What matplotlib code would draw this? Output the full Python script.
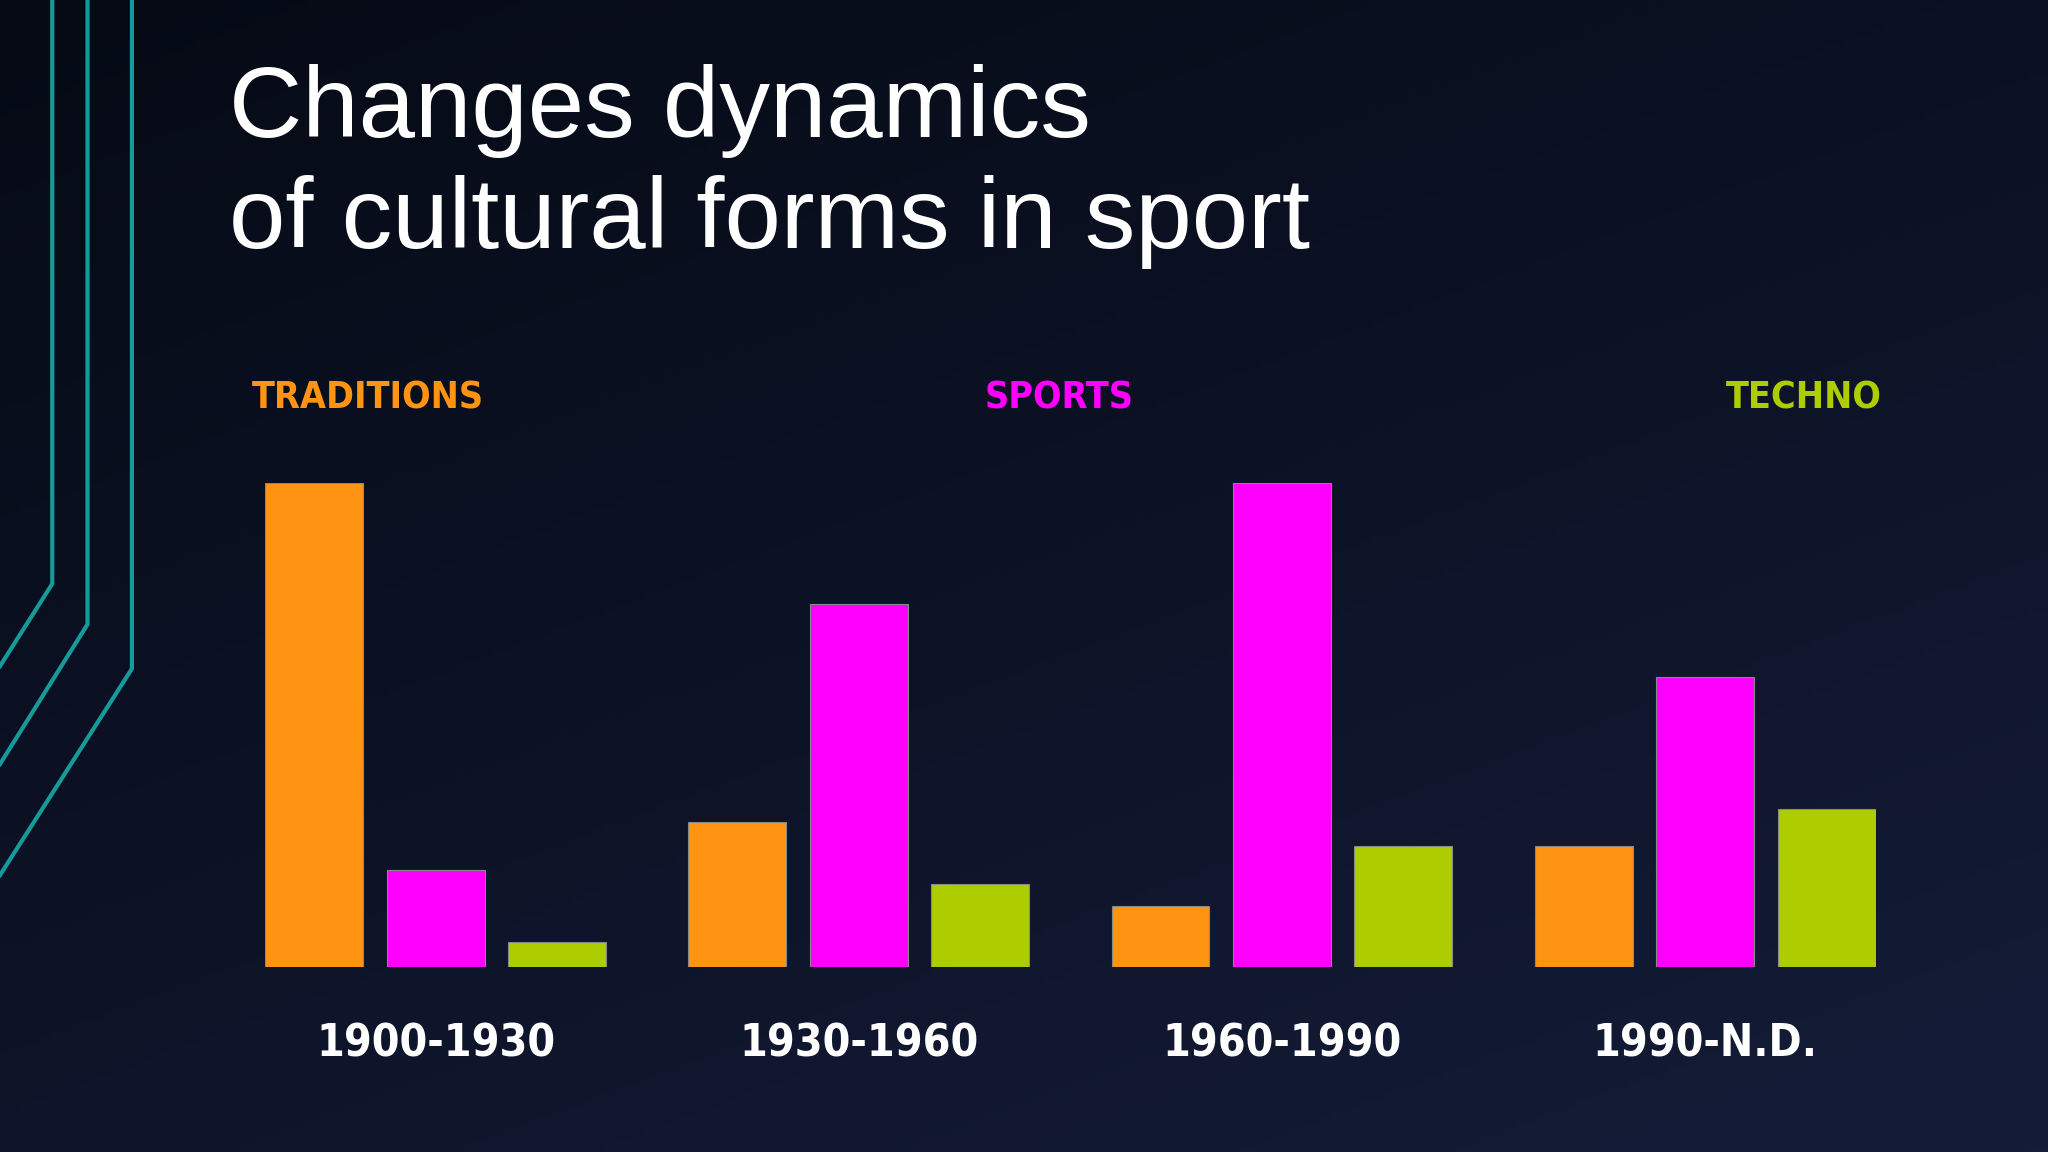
import matplotlib
matplotlib.use("Agg")
import matplotlib.pyplot as plt
import numpy as np

periods = ["1900-1930", "1930-1960", "1960-1990", "1990-N.D."]
traditions = [100, 30, 12.5, 25]
sports = [20, 75, 100, 60]
techno = [5, 17, 25, 32.5]
series_names = ["TRADITIONS", "SPORTS", "TECHNO"]
colors = ["#FF9312", "#FF00FF", "#AECD00"]

W, H = 1568, 882
fig = plt.figure(figsize=(20.48, 11.52), dpi=100)

bg = fig.add_axes([0, 0, 1, 1])
yy, xx = np.mgrid[0:1:200j, 0:1:200j]
t = np.clip(0.6 * yy + 0.4 * xx, 0, 1)
top = np.array([0.02, 0.04, 0.08])
bot = np.array([0.08, 0.11, 0.22])
img = top[None, None, :] * (1 - t[..., None]) + bot[None, None, :] * t[..., None]
bg.imshow(img, extent=[0, 1, 0, 1], aspect="auto", origin="upper")
bg.set_xlim(0, 1); bg.set_ylim(0, 1); bg.axis("off")
for xs, yb, ye in [(40, 447, 510), (67, 478, 585), (101, 512, 670)]:
    bg.plot([xs / W, xs / W, 0], [1, 1 - yb / H, 1 - ye / H], color="#169a9a", lw=3)

fig.text(175 / W, 1 - 85 / H, "Changes dynamics", color="white", fontsize=73,
         family="Liberation Sans", va="center", ha="left")
fig.text(175 / W, 1 - 170 / H, "of cultural forms in sport", color="white", fontsize=73,
         family="Liberation Sans", va="center", ha="left")

for name, cx, c in zip(series_names, [282, 811, 1381], colors):
    fig.text(cx / W, 1 - 305 / H, name, color=c, fontsize=27, weight="bold",
             family="DejaVu Sans", stretch="condensed", ha="center", va="center")

ax = fig.add_axes([203 / W, 1 - 740 / H, (1436 - 203) / W, 370 / H])
ax.set_facecolor("none")
gstep = 324 / 93
x = np.arange(len(periods)) * gstep
w = 75 / 93
for i, (vals, c) in enumerate(zip([traditions, sports, techno], colors)):
    ax.bar(x + (i - 1), vals, width=w, color=c, edgecolor="#888888", linewidth=0.8)
ax.set_xlim(x[0] - 1 - w / 2, x[-1] + 1 + w / 2)
ax.set_ylim(0, 100)
ax.axis("off")
for xi, p in zip(x, periods):
    ax.text(xi, -16, p, color="white", fontsize=32, weight="bold",
            family="DejaVu Sans", stretch="condensed", ha="center", va="center",
            transform=ax.transData, clip_on=False)

fig.savefig("out.png", dpi=100)
